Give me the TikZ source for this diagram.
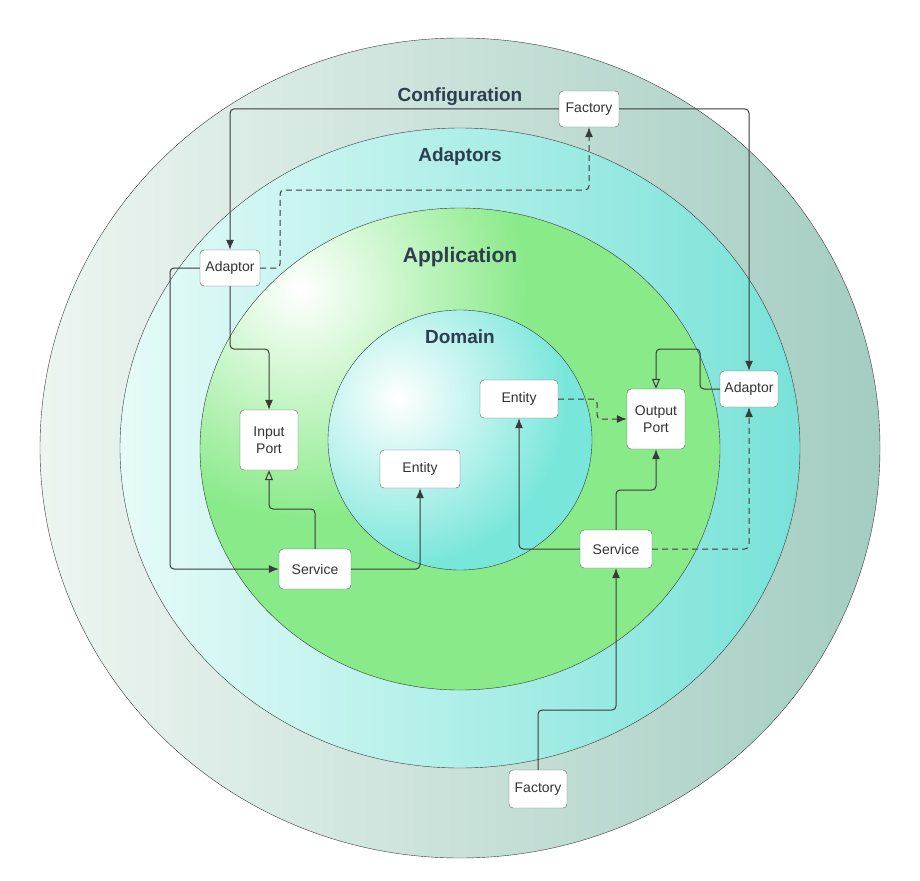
\documentclass[tikz,border=0pt]{standalone}
\usepackage{fontspec}
\setmainfont{Liberation Sans}
\usetikzlibrary{arrows.meta}
\definecolor{ttl}{HTML}{2D3E4E}
\definecolor{ln}{HTML}{3A3A3A}
\definecolor{appg}{HTML}{88EA88}
\definecolor{domc}{HTML}{78E6DA}
\definecolor{cfgl}{HTML}{EDF5F1}
\definecolor{cfgr}{HTML}{A4CDC1}
\definecolor{adl}{HTML}{E6FBF8}
\definecolor{adr}{HTML}{78E2D8}
\begin{document}
\begin{tikzpicture}[x=1pt,y=-1pt,
  box/.style={draw=ln!80,fill=white,rounded corners=4pt,align=center,font=\fontsize{14}{17}\selectfont,text=black!80,inner sep=0pt},
  conn/.style={draw=ln,line width=1pt,rounded corners=4pt,-{Latex[length=10pt,width=8pt]}},
  dconn/.style={conn,dash pattern=on 6pt off 4pt},
  iconn/.style={draw=ln,line width=1pt,rounded corners=4pt,-{Triangle[open,length=10pt,width=8pt]}},
  ttlf/.style={font=\bfseries\fontsize{19}{22}\selectfont,text=ttl}]
\useasboundingbox (0,0) rectangle (920,880);
\fill[white] (0,0) rectangle (920,880);
% rings
\shade[left color=cfgl,right color=cfgr] (460,448) ellipse [x radius=420,y radius=410];
\draw[ln] (460,448) ellipse [x radius=420,y radius=410];
\shade[left color=adl,right color=adr] (460,448) ellipse [x radius=340,y radius=320];
\draw[ln] (460,448) ellipse [x radius=340,y radius=320];
\begin{scope}
\clip (460,449) ellipse [x radius=260,y radius=241];
\fill[appg] (460,449) ellipse [x radius=260,y radius=241];
\shade[inner color=white,outer color=appg] (300,290) circle (230);
\end{scope}
\draw[ln] (460,449) ellipse [x radius=260,y radius=241];
\begin{scope}
\clip (460,440) ellipse [x radius=132,y radius=130];
\fill[domc] (460,440) ellipse [x radius=132,y radius=130];
\shade[inner color=white,outer color=domc] (398,398) circle (170);
\end{scope}
\draw[ln] (460,440) ellipse [x radius=132,y radius=130];
% titles
\node[ttlf] (tc) at (460,97) {Configuration};
\node[ttlf] (ta) at (460,157) {Adaptors};
\node[ttlf,font=\bfseries\fontsize{21}{24}\selectfont] (tp) at (460,257) {Application};
\node[ttlf] (td) at (460,337) {Domain};
% nodes
\node[box,minimum width=60,minimum height=36] (ft) at (589,109) {Factory};
\node[box,minimum width=60,minimum height=36] (al) at (230,268) {Adaptor};
\node[box,minimum width=58,minimum height=60] (ip) at (269,440) {Input\\Port};
\node[box,minimum width=80,minimum height=38] (ec) at (420,469) {Entity};
\node[box,minimum width=78,minimum height=38] (er) at (519,399) {Entity};
\node[box,minimum width=58,minimum height=60] (op) at (656,419) {Output\\Port};
\node[box,minimum width=58,minimum height=36] (ar) at (749,389) {Adaptor};
\node[box,minimum width=72,minimum height=40] (sl) at (315,569) {Service};
\node[box,minimum width=72,minimum height=38] (sr) at (616,549) {Service};
\node[box,minimum width=58,minimum height=38] (fb) at (538,789) {Factory};
% connectors
\draw[conn] (ft.west) -| (al.north);
\draw[conn] (ft.east) -| (ar.north);
\draw[dconn] (al.east) -- (280,268) -- (280,190) -| (ft.south);
\draw[conn] (al.south) -- (230,349) -| (ip.north);
\draw[conn] (al.west) -- (170,268) |- (sl.west);
\draw[iconn] (sl.north) -- (315,509) -| (ip.south);
\draw[conn] (sl.east) -| (ec.south);
\draw[conn] (sr.west) -| (er.south);
\draw[conn] (sr.north) -- (616,490) -| (op.south);
\draw[dconn] (sr.east) -| (ar.south);
\draw[dconn] (er.east) -- (597,399) |- (op.west);
\draw[iconn] (ar.west) -- (700,389) -- (700,349) -| (op.north);
\draw[conn] (fb.north) -- (538,710) -| (sr.south);
\end{tikzpicture}
\end{document}
